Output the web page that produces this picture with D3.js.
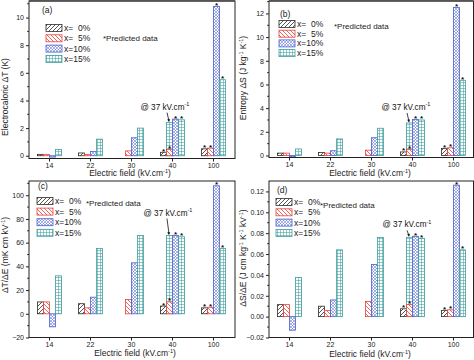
<!DOCTYPE html>
<html><head><meta charset="utf-8">
<script src="https://cdn.jsdelivr.net/npm/d3@7"></script>
<style>
body{margin:0;background:#fff;}
svg{display:block;font-family:"Liberation Sans",Arial,sans-serif;}
</style></head>
<body>
<svg id="c" width="474" height="360"></svg>
<script>
// ---------- data ----------
const categories = ["14","22","30","40","100"];
const seriesNames = ["x=  0%","x=  5%","x=10%","x=15%"];
const predictedCats = ["40","100"];

const dT_0  = [0.1, 0.2, null, 0.25, 0.5];
const dT_5  = [0.1, 0.1, 0.35, 0.45, 0.55];
const dT_10 = [-0.1, 0.3, 1.3, 2.65, 10.8];
const dT_15 = [0.45, 1.2, 2.0, 2.6, 5.5];
const dT_15at37 = 2.4;

const dS_0  = [0.2, 0.25, null, 0.3, 0.6];
const dS_5  = [0.2, 0.2, 0.45, 0.5, 0.65];
const dS_10 = [-0.1, 0.4, 1.5, 3.05, 12.5];
const dS_15 = [0.55, 1.4, 2.3, 3.0, 6.35];
const dS_15at37 = 2.75;

const dTdE_0  = [10, 8.5, null, 6.5, 5];
const dTdE_5  = [10, 5, 12, 10, 5.5];
const dTdE_10 = [-11, 14, 43, 66, 108];
const dTdE_15 = [32, 55, 66, 65, 55];
const dTdE_15at37 = 66;

const dSdE_0  = [0.0115, 0.010, null, 0.0075, 0.006];
const dSdE_5  = [0.0115, 0.006, 0.0145, 0.0115, 0.0065];
const dSdE_10 = [-0.013, 0.016, 0.050, 0.077, 0.126];
const dSdE_15 = [0.0375, 0.064, 0.076, 0.075, 0.064];
const dSdE_15at37 = 0.076;

const yTicksA = [0,2,4,6,8,10];
const yTicksB = [0,2,4,6,8,10,12];
const yTicksC = [-20,0,20,40,60,80,100];
const yTicksD = [-0.02,0,0.02,0.04,0.06,0.08,0.10,0.12];

// ---------- styles ----------
const colors = ["#2b2b2b","#e8403a","#4a5fd0","#3f9e9e"];
const svg = d3.select("#c");
const defs = svg.append("defs");
function pat(id, w, paths, col, sw){
  const p = defs.append("pattern").attr("id",id).attr("patternUnits","userSpaceOnUse")
    .attr("width",w).attr("height",w);
  p.append("rect").attr("width",w).attr("height",w).attr("fill","#fff");
  p.append("path").attr("d",paths).attr("stroke",col).attr("stroke-width",sw).attr("fill","none");
}
pat("p0",4,"M-1,1 L1,-1 M0,4 L4,0 M3,5 L5,3",colors[0],0.8);
pat("p1",4,"M-1,3 L1,5 M0,0 L4,4 M3,-1 L5,1",colors[1],0.8);
pat("p2",3,"M0,0 L3,3 M3,0 L0,3",colors[2],0.5);
pat("p3",3,"M0,1.5 L3,1.5 M1.5,0 L1.5,3",colors[3],0.55);

const panels = [
  {id:"(a)", series:[dT_0,dT_5,dT_10,dT_15], at37:dT_15at37, ticks:yTicksA, fmt:d3.format("d"),
   x:[29,234], frameR:235, y:[158.5,1], dom:[-0.2,11.2],
   ylab:"Electrocaloric \u0394T (K)", ylabX:8, ylabY:97,
   plab:[42,13], leg:[46,28,10.3], pred:[103,41], lab37:[-29,-13], xt:164, xlab:[130,176]},
  {id:"(b)", series:[dS_0,dS_5,dS_10,dS_15], at37:dS_15at37, ticks:yTicksB, fmt:d3.format("d"),
   x:[269,474], frameR:473.5, y:[157.5,1], dom:[-0.17,13.05],
   ylabHTML:["Entropy \u0394S (J kg","-1"," K","-1",")"], ylabX:246, ylabY:78,
   plab:[280,17], leg:[279,24,9.7], pred:[334,29], lab37:[-28,-13], xt:164, xlab:[370,176]},
  {id:"(c)", series:[dTdE_0,dTdE_5,dTdE_10,dTdE_15], at37:dTdE_15at37, ticks:yTicksC, fmt:d3.format("d"),
   x:[29,234], frameR:235, y:[337.5,181], dom:[-20,112],
   ylabHTML:["\u0394T/\u0394E (mK cm kV","-1",")"], ylabX:8, ylabY:255,
   plab:[38,189], leg:[37,201,10.6], pred:[86,206], lab37:[-26,-20], xt:345, xlab:[135,356]},
  {id:"(d)", series:[dSdE_0,dSdE_5,dSdE_10,dSdE_15], at37:dSdE_15at37, ticks:yTicksD, fmt:d3.format(".2f"),
   x:[269,474], frameR:473.5, y:[337.5,181], dom:[-0.02,0.13],
   ylabHTML:["\u0394S/\u0394E (J cm kg","-1"," K","-1"," kV","-1",")"], ylabX:246, ylabY:258,
   plab:[277,193], leg:[276,202,10.3], pred:[320,208], lab37:[-27,-10], xt:345, xlab:[370,357]}
];

panels.forEach(P=>{
  const g = svg.append("g");
  const x0 = d3.scaleBand().domain(categories).range(P.x).padding(0);
  const x1 = d3.scaleBand().domain(d3.range(4)).range([0,x0.bandwidth()]).paddingOuter(1.42);
  const y = d3.scaleLinear().domain(P.dom).range(P.y);
  const top = P.y[1], bot = P.y[0];
  const y0 = y(Math.max(0,P.dom[0]));

  const bars = [];
  P.series.forEach((arr,si)=>arr.forEach((v,ci)=>{
    if(v===null) return;
    bars.push({si,ci,v,cat:categories[ci]});
  }));
  const c40 = "40";
  const b37x = x0(c40)+x1(1);
  g.append("rect").attr("x",b37x).attr("width",x1.bandwidth()+1)
    .attr("y",y(P.at37)).attr("height",y0-y(P.at37))
    .attr("fill","url(#p3)").attr("stroke",colors[3]).attr("stroke-width",0.8);
  g.selectAll("rect.bar").data(bars).enter().append("rect").attr("class","bar")
    .attr("x",d=>x0(d.cat)+x1(d.si))
    .attr("width",x1.bandwidth())
    .attr("y",d=>Math.min(y(d.v),y0))
    .attr("height",d=>Math.abs(y(d.v)-y0))
    .attr("fill",d=>`url(#p${d.si})`)
    .attr("stroke",d=>colors[d.si]).attr("stroke-width",0.8);
  g.selectAll("text.star").data(bars.filter(d=>predictedCats.includes(d.cat))).enter()
    .append("text").attr("class","star")
    .attr("x",d=>x0(d.cat)+x1(d.si)+x1.bandwidth()/2)
    .attr("y",d=>y(d.v)+1.5)
    .attr("text-anchor","middle").attr("font-size",8).attr("font-weight","bold").attr("fill","#111").text("*");

  const bx = b37x + x1.bandwidth()/2;
  const by = y(P.at37);
  const lt = g.append("text").attr("x",bx+P.lab37[0]).attr("y",by+P.lab37[1])
    .attr("font-size",8.2).attr("fill","#111");
  lt.append("tspan").text("@ 37 kV.cm");
  lt.append("tspan").attr("font-size",5.5).attr("dy",-3.5).text("-1");
  g.append("line").attr("x1",bx-2.5).attr("y1",by+P.lab37[1]+3).attr("x2",bx-0.5).attr("y2",by-1.5)
    .attr("stroke","#111").attr("stroke-width",0.8);
  g.append("path").attr("d",`M${bx-0.5},${by-0.5} l-1.8,-2.6 l2.8,-0.4 z`).attr("fill","#111");

  g.append("rect").attr("x",P.x[0]).attr("y",top).attr("width",P.frameR-P.x[0]).attr("height",bot-top)
    .attr("fill","none").attr("stroke","#222").attr("stroke-width",1);
  if(top<=1) g.append("line").attr("x1",P.x[0]).attr("x2",P.frameR).attr("y1",0.8).attr("y2",0.8)
    .attr("stroke","#555").attr("stroke-width",1.8);

  const ya = g.append("g").attr("transform",`translate(${P.x[0]},0)`)
    .call(d3.axisLeft(y).tickValues(P.ticks).tickFormat(P.fmt).tickSize(3).tickPadding(2));
  ya.select(".domain").remove();
  ya.selectAll("text").attr("font-size",7).attr("fill","#222").attr("font-family","Liberation Sans, Arial, sans-serif");
  ya.selectAll("line").attr("stroke","#222");
  const step = P.ticks[1]-P.ticks[0];
  const minors = P.ticks.map(t=>t+step/2).filter(t=>t<P.dom[1]);
  g.selectAll("line.mn").data(minors).enter().append("line")
    .attr("x1",P.x[0]-1.8).attr("x2",P.x[0]).attr("y1",d=>y(d)).attr("y2",d=>y(d)).attr("stroke","#222");

  const xa = g.append("g").attr("transform",`translate(0,${bot})`)
    .call(d3.axisBottom(x0).tickSize(3).tickPadding(2));
  xa.select(".domain").remove();
  xa.selectAll("text").attr("font-size",7).attr("fill","#222").attr("font-family","Liberation Sans, Arial, sans-serif");
  xa.selectAll("line").attr("stroke","#222");

  const xt = g.append("text").attr("x",P.xlab[0]).attr("y",P.xlab[1]).attr("text-anchor","middle")
    .attr("font-size",8.5).attr("fill","#222");
  xt.append("tspan").text("Electric field (kV.cm");
  xt.append("tspan").attr("font-size",5.5).attr("dy",-3.5).text("-1");
  xt.append("tspan").attr("dy",3.5).text(")");

  const yt = g.append("text").attr("transform",`translate(${P.ylabX},${P.ylabY}) rotate(-90)`)
    .attr("text-anchor","middle").attr("font-size",8.5).attr("fill","#222");
  if(P.ylab){ yt.text(P.ylab); }
  else {
    P.ylabHTML.forEach((t,i)=>{
      if(i%2===0) yt.append("tspan").attr("dy", i===0?0:3.5).text(t);
      else yt.append("tspan").attr("font-size",5.5).attr("dy",-3.5).text(t);
    });
  }

  g.append("text").attr("x",P.plab[0]).attr("y",P.plab[1]).attr("font-size",8.5).attr("fill","#222").text(P.id);

  seriesNames.forEach((n,i)=>{
    const ly = P.leg[1]+i*P.leg[2];
    g.append("rect").attr("x",P.leg[0]).attr("y",ly-3.5).attr("width",16).attr("height",7)
      .attr("fill",`url(#p${i})`).attr("stroke",colors[i]).attr("stroke-width",0.8);
    g.append("text").attr("x",P.leg[0]+18).attr("y",ly+3).attr("font-size",8.5).attr("fill","#222")
      .style("white-space","pre").text(n);
  });
  g.append("text").attr("x",P.pred[0]).attr("y",P.pred[1]).attr("font-size",8).attr("fill","#222")
    .text("*Predicted data");
});
</script>
</body></html>
